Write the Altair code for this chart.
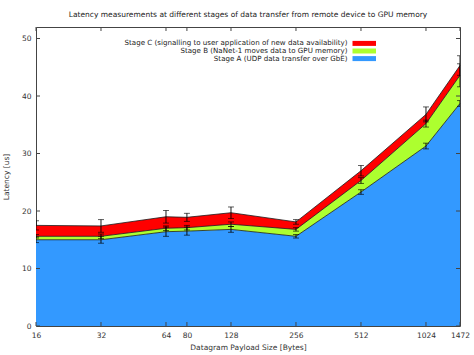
import altair as alt
import pandas as pd

# ---- data ----
sizes = [16, 32, 64, 80, 128, 256, 512, 1024, 1472]
stage_a = [15.0, 15.0, 16.4, 16.5, 16.8, 15.6, 23.3, 31.3, 38.7]   # UDP over GbE
stage_b = [0.6, 0.6, 0.6, 0.6, 0.9, 1.2, 2.0, 3.9, 4.9]            # NaNet-1 -> GPU
stage_c = [1.9, 1.8, 2.0, 1.8, 2.0, 1.3, 1.7, 1.6, 1.7]            # signalling
err_a = [0.5, 0.6, 0.8, 0.7, 0.5, 0.3, 0.4, 0.5, 0.5]
err_b = [0.3, 0.4, 0.4, 0.4, 0.4, 0.3, 0.5, 0.6, 2.0]
err_c = [0.8, 1.1, 1.1, 0.7, 1.0, 0.4, 0.9, 1.3, 1.7]
y_ticks = [0, 10, 20, 30, 40, 50]
legend_labels = [
    "Stage C (signalling to user application of new data availability)",
    "Stage B (NaNet-1 moves data to GPU memory)",
    "Stage A (UDP data transfer over GbE)",
]
colors = ["#ff0000", "#adff2f", "#3399ff"]

W, H = 424, 299
FONT = "DejaVu Sans"
FS = 7.5

df = pd.DataFrame({"size": sizes, "A": stage_a, "B": stage_b, "C": stage_c})
df["zero"] = 0.0
df["a1"] = df["A"]
df["b1"] = df["A"] + df["B"]
df["c1"] = df["b1"] + df["C"]

err_rows = []
for i, s in enumerate(sizes):
    for top, e in ((df["a1"][i], err_a[i]), (df["b1"][i], err_b[i]), (df["c1"][i], err_c[i])):
        err_rows.append({"size": s, "lo": top - e, "hi": top + e})
edf = pd.DataFrame(err_rows)

xscale = alt.Scale(type="log", base=2, domain=[16, 1472], nice=False)
yscale = alt.Scale(domain=[0, 52], nice=False)
axis_style = dict(labelFont=FONT, titleFont=FONT, labelFontSize=FS, titleFontSize=FS,
                  labelColor="#333", titleColor="#333", titleFontWeight="normal",
                  grid=False, ticks=False, domain=False)
xaxis = alt.Axis(values=sizes, format="d", title="Datagram Payload Size [Bytes]",
                 labelFlush=False, labelOverlap=False, labelPadding=5, titlePadding=5,
                 **axis_style)
yaxis = alt.Axis(values=y_ticks, title="Latency [us]", labelPadding=5, titlePadding=11,
                 **axis_style)

def X(f):
    return alt.X(f"{f}:Q", scale=xscale, axis=xaxis)

def Y(f):
    return alt.Y(f"{f}:Q", scale=yscale, axis=yaxis)

base = alt.Chart(df)

areas = [
    base.mark_area(color=colors[2], opacity=1).encode(x=X("size"), y=Y("a1"), y2="zero:Q"),
    base.mark_area(color=colors[1], opacity=1).encode(x=X("size"), y=Y("b1"), y2="a1:Q"),
    base.mark_area(color=colors[0], opacity=1).encode(x=X("size"), y=Y("c1"), y2="b1:Q"),
]

lines = [
    base.mark_line(color="#1a1a1a", strokeWidth=0.8).encode(x=X("size"), y=Y(c))
    for c in ("a1", "b1", "c1")
]

ebase = alt.Chart(edf)
err_rule = ebase.mark_rule(color="#000", strokeWidth=0.9, clip=True).encode(
    x=X("size"), y=Y("lo"), y2="hi:Q")
cap_lo = ebase.mark_tick(color="#000", orient="horizontal", size=6, thickness=0.9, clip=True).encode(
    x=X("size"), y=Y("lo"))
cap_hi = ebase.mark_tick(color="#000", orient="horizontal", size=6, thickness=0.9, clip=True).encode(
    x=X("size"), y=Y("hi"))

# inward tick marks on all four sides (gnuplot style)
xt = alt.Chart(pd.DataFrame({"size": sizes}))
yt = alt.Chart(pd.DataFrame({"lat": y_ticks}))
TL = 4
ticks = [
    xt.mark_rule(color="#444").encode(x=X("size"), y=alt.value(H), y2=alt.value(H - TL)),
    xt.mark_rule(color="#444").encode(x=X("size"), y=alt.value(0), y2=alt.value(TL)),
    yt.mark_rule(color="#444").encode(y=Y("lat"), x=alt.value(0), x2=alt.value(TL)),
    yt.mark_rule(color="#444").encode(y=Y("lat"), x=alt.value(W), x2=alt.value(W - TL)),
]

# key (top centre, text right-aligned, swatch to the right)
key = []
rows_y = [16.4, 24.0, 31.6]
for lab, col, ry in zip(legend_labels, colors, rows_y):
    kd = alt.Chart(pd.DataFrame({"label": [lab]}))
    key.append(kd.mark_text(align="right", baseline="middle", font=FONT, fontSize=7.1,
                            color="#222").encode(text="label:N", x=alt.value(311.5), y=alt.value(ry)))
    key.append(kd.mark_rect(color=col).encode(x=alt.value(316.5), x2=alt.value(340),
                                              y=alt.value(ry - 2.5), y2=alt.value(ry + 2.5)))

chart = alt.layer(*areas, *lines, err_rule, cap_lo, cap_hi, *ticks, *key).properties(
    width=W, height=H,
    background="white",
    title=alt.TitleParams("Latency measurements at different stages of data transfer from remote device to GPU memory",
                          font=FONT, fontSize=FS, fontWeight="normal", color="#222", offset=8),
    autosize=alt.AutoSizeParams(type="none"),
    padding={"left": 36, "top": 27, "right": 14, "bottom": 29},
).configure_view(stroke="#444", strokeWidth=1)

chart.save("out.html", embed_options={"renderer": "svg", "actions": False})
